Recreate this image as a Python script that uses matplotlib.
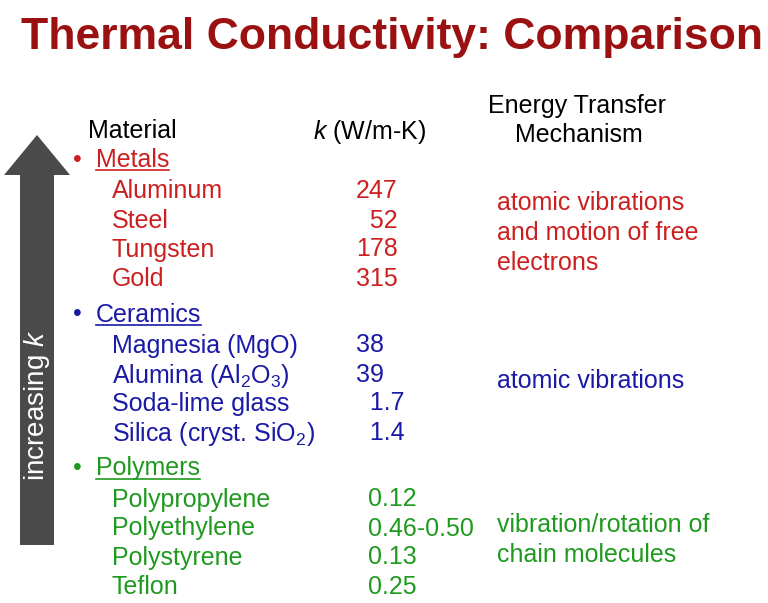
import matplotlib
matplotlib.use("Agg")
import matplotlib.pyplot as plt
from matplotlib.patches import FancyArrow
from matplotlib.lines import Line2D

plt.rcParams['font.family'] = ['Liberation Sans', 'DejaVu Sans']
plt.rcParams['mathtext.fontset'] = 'custom'
plt.rcParams['mathtext.rm'] = 'Liberation Sans'
plt.rcParams['mathtext.it'] = 'Liberation Sans:italic'

W, H = 768, 603
FS = 18

# data
groups = ["Metals", "Ceramics", "Polymers"]
metals = ["Aluminum", "Steel", "Tungsten", "Gold"]
metals_k = ["247", "\u200752", "178", "315"]
ceramics = ["Magnesia (MgO)", "Alumina (Al$_2$O$_3$)", "Soda-lime glass", "Silica (cryst. SiO$_2$)"]
ceramics_k = ["38", "39", "\u20071.7", "\u20071.4"]
polymers = ["Polypropylene", "Polyethylene", "Polystyrene", "Teflon"]
polymers_k = ["0.12", "0.46-0.50", "0.13", "0.25"]
mechanisms = [["atomic vibrations", "and motion of free", "electrons"],
              ["atomic vibrations"],
              ["vibration/rotation of", "chain molecules"]]

colors = ["#cc2020", "#1a1aa6", "#1f9a1f"]

fig = plt.figure(figsize=(W / 100, H / 100), dpi=100)
fig.patch.set_facecolor("white")


def T(x, y, s, **kw):
    kw.setdefault("va", "center_baseline")
    return fig.text(x / W, 1 - y / H, s, **kw)


T(392, 38, "Thermal Conductivity: Comparison", ha="center", va="center", fontsize=32,
  fontweight="bold", color="#9b1111")

# arrow
ax = fig.add_axes([0, 0, 1, 1])
ax.set_xlim(0, W)
ax.set_ylim(H, 0)
ax.axis("off")
ax.add_patch(FancyArrow(37, 545, 0, -410, width=34, head_width=66,
                        head_length=40, length_includes_head=True,
                        color="#4a4a4a", lw=0))
T(37, 405, "increasing $k$", ha="center", va="center", rotation=90, fontsize=20, color="white")

# headers
T(88, 129, "Material", fontsize=FS)
T(313, 129, "$k$ (W/m-K)", fontsize=FS)
T(488, 103, "Energy Transfer", fontsize=FS)
T(515, 133, "Mechanism", fontsize=FS)

heads_y = [158, 312, 466]
items = [metals, ceramics, polymers]
vals = [metals_k, ceramics_k, polymers_k]
val_x = [356, 356, 368]
mech_y = [[201, 231, 261], [378], [522, 553]]
heads = []
for gi, g in enumerate(groups):
    c = colors[gi]
    y0 = heads_y[gi]
    T(73, y0, "\u2022", fontsize=FS, color=c)
    heads.append(T(96, y0, g, fontsize=FS, color=c))
    for i, (name, k) in enumerate(zip(items[gi], vals[gi])):
        y = y0 + 31 + 29 * i
        T(112, y, name, fontsize=FS, color=c)
        T(val_x[gi], y, k, fontsize=FS, color=c)
    for line, my in zip(mechanisms[gi], mech_y[gi]):
        T(497, my, line, fontsize=FS, color=c)

# underline the group headings
fig.canvas.draw()
r = fig.canvas.get_renderer()
for gi, t in enumerate(heads):
    bb = t.get_window_extent(r)
    yb = bb.y0 + 2
    fig.add_artist(Line2D([bb.x0 / W, bb.x1 / W], [yb / H, yb / H],
                          color=colors[gi], lw=1.2, transform=fig.transFigure))

fig.savefig("out.png", dpi=100)
